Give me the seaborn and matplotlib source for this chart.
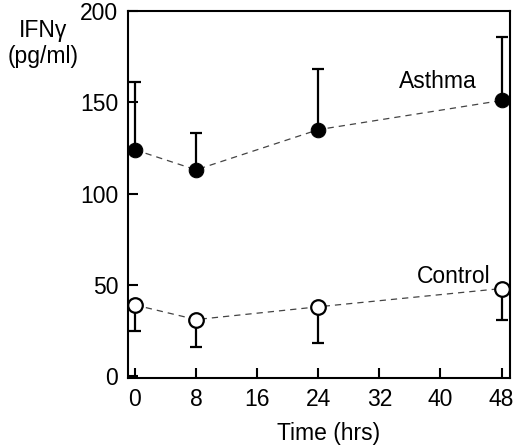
import numpy as np
import pandas as pd
import matplotlib
matplotlib.use("Agg")
import matplotlib.pyplot as plt
import seaborn as sns

# data
hours = [0, 8, 24, 48]
asthma_mean = [124, 113, 135, 151]
asthma_upper = [161, 133, 168, 186]
control_mean = [39, 31, 38, 48]
control_lower = [25, 16, 18, 31]

df = pd.DataFrame({
    "hours": hours * 2,
    "ifn": asthma_mean + control_mean,
    "group": ["Asthma"] * 4 + ["Control"] * 4,
})

sns.set_style("ticks")
plt.rcParams["font.family"] = ["Liberation Sans", "DejaVu Sans"]
plt.rcParams["text.color"] = "black"

FS = 16.5

fig = plt.figure(figsize=(5.2, 4.48), dpi=100)
ax = fig.add_axes([128 / 520, 1 - 378 / 448, (510 - 128) / 520, (378 - 11) / 448])

# one-sided error bars
a_err = np.array(asthma_upper) - np.array(asthma_mean)
c_err = np.array(control_mean) - np.array(control_lower)
ax.errorbar(hours, asthma_mean, yerr=[np.zeros(4), a_err], fmt="none",
            ecolor="black", elinewidth=1.6, capsize=4.5, capthick=1.6, zorder=2)
ax.errorbar(hours, control_mean, yerr=[c_err, np.zeros(4)], fmt="none",
            ecolor="black", elinewidth=1.6, capsize=4.5, capthick=1.6, zorder=2)

sns.lineplot(data=df[df.group == "Asthma"], x="hours", y="ifn", ax=ax,
             color="#444444", linewidth=0.9, linestyle=(0, (5, 4)),
             marker="o", markersize=10.5, markerfacecolor="black",
             markeredgecolor="black", zorder=3)
sns.lineplot(data=df[df.group == "Control"], x="hours", y="ifn", ax=ax,
             color="#444444", linewidth=0.9, linestyle=(0, (5, 4)),
             marker="o", markersize=10.5, markerfacecolor="white",
             markeredgecolor="black", markeredgewidth=1.6, zorder=3)
for ln in ax.lines:
    if ln.get_marker() == "o":
        ln.set_clip_on(False)

ax.set_xlim(-0.9, 49.1)
ax.set_ylim(-1, 200)
ax.set_xticks([0, 8, 16, 24, 32, 40, 48])
ax.set_yticks([0, 50, 100, 150, 200])
ax.tick_params(direction="in", length=7, width=1.5, labelsize=FS, pad=7,
               color="black", labelcolor="black")
for s in ax.spines.values():
    s.set_visible(True)
    s.set_linewidth(1.5)
    s.set_color("black")

ax.set_xlabel("Time (hrs)", fontsize=FS, labelpad=7, color="black")
ax.xaxis.set_label_coords(0.525, -0.12)
ax.set_ylabel("")

fig.text(477 / 520, 1 - 82 / 448, "Asthma", fontsize=FS, ha="right", va="center")
fig.text(490 / 520, 1 - 276 / 448, "Control", fontsize=FS, ha="right", va="center")
fig.text(43 / 520, 1 - 30 / 448, "IFNγ", fontsize=FS, ha="center", va="center")
fig.text(43 / 520, 1 - 56 / 448, "(pg/ml)", fontsize=FS, ha="center", va="center")

fig.savefig("out.png", dpi=100, facecolor="white")
